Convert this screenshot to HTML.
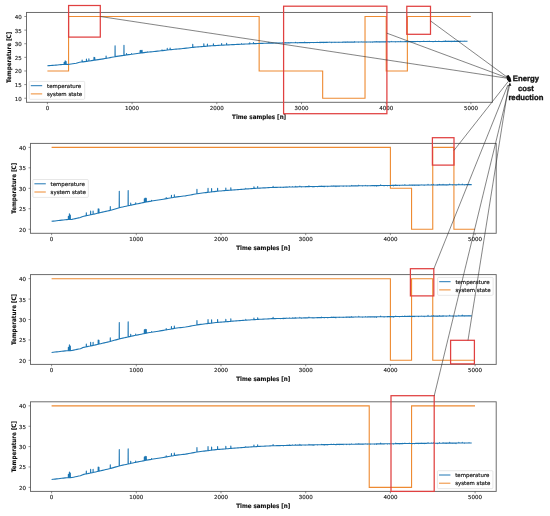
<!DOCTYPE html>
<html><head><meta charset="utf-8"><style>
html,body{margin:0;padding:0;background:#fff;width:550px;height:516px;overflow:hidden}
svg{display:block}
.t{font-family:'DejaVu Sans', 'Liberation Sans', sans-serif;font-size:5.5px;fill:#1a1a1a;stroke:#1a1a1a;stroke-width:0.14px}
.lg{font-family:'DejaVu Sans', 'Liberation Sans', sans-serif;font-size:5.45px;fill:#1a1a1a;stroke:#1a1a1a;stroke-width:0.18px}
text{text-rendering:geometricPrecision}
.lb{font-family:'DejaVu Sans', 'Liberation Sans', sans-serif;font-size:6.2px;font-weight:bold;font-stretch:condensed;fill:#111;stroke:#111;stroke-width:0.12px}
.ec{font-family:'Liberation Sans',Arial,sans-serif;font-size:7.7px;font-weight:bold;fill:#111;stroke:#111;stroke-width:0.32px}
</style></head><body>
<svg width="550" height="516" viewBox="0 0 550 516">
<defs><filter id="bl" filterUnits="userSpaceOnUse" x="0" y="0" width="550" height="516"><feGaussianBlur stdDeviation="0.3"/></filter></defs>
<rect width="550" height="516" fill="#fff"/>
<g filter="url(#bl)">
<polyline points="47.40,70.97 68.58,70.97 68.58,16.49 259.15,16.49 259.15,70.97 322.67,70.97 322.67,98.21 365.02,98.21 365.02,16.49 386.20,16.49 386.20,70.97 407.37,70.97 407.37,16.49 470.82,16.49" fill="none" stroke="#ee8a30" stroke-width="1.1" stroke-linejoin="miter"/>
<polyline points="47.40,65.71 49.09,65.59 50.79,65.46 52.48,65.34 54.18,65.21 55.87,65.08 57.56,64.94 59.26,64.81 60.95,64.67 62.65,64.56 64.09,64.52 64.17,62.34 64.26,64.52 64.34,64.52 65.10,64.50 65.19,60.68 65.27,64.49 66.03,64.47 66.03,64.47 66.12,61.47 66.20,64.47 67.73,64.42 69.42,64.18 71.12,63.93 72.81,63.69 74.50,63.45 76.20,63.20 77.89,62.67 79.59,62.31 81.28,62.08 82.04,61.98 82.13,60.06 82.21,61.95 82.97,61.85 84.67,61.62 86.36,61.40 86.36,61.40 86.45,58.93 86.53,61.37 88.06,61.17 88.82,61.06 88.90,58.87 88.99,61.04 89.75,60.93 91.44,60.66 93.14,60.40 93.90,60.28 93.98,57.40 94.07,60.25 94.66,60.16 94.75,57.55 94.83,60.13 94.83,60.13 96.53,59.87 98.22,59.61 99.91,59.35 101.61,59.10 103.30,58.84 105.00,58.58 106.01,58.42 106.10,55.96 106.18,58.39 106.69,58.29 108.38,57.96 110.08,57.64 111.77,57.31 113.47,56.98 114.99,56.69 115.08,45.77 115.16,56.65 115.16,56.65 116.85,56.39 118.55,56.14 120.24,55.90 121.94,55.65 123.63,55.40 123.88,55.36 123.97,45.27 124.05,55.34 125.32,55.15 126.43,54.99 126.51,53.62 126.59,54.97 127.02,54.91 128.71,54.66 130.41,54.42 131.42,54.28 131.51,53.45 131.59,54.26 132.10,54.19 133.79,53.97 135.49,53.74 137.18,53.52 138.88,53.29 140.06,53.14 140.15,50.67 140.23,53.11 140.57,53.07 140.91,53.02 140.99,50.29 141.08,53.00 142.01,52.88 142.09,50.41 142.18,52.85 142.26,52.84 143.96,52.62 145.65,52.42 147.26,52.25 147.35,51.69 147.43,52.23 149.04,52.06 150.73,51.88 152.43,51.70 154.12,51.52 155.82,51.34 157.51,51.16 159.20,50.98 160.90,50.78 161.91,50.67 162.00,49.84 162.08,50.65 162.59,50.59 164.29,50.40 165.98,50.20 167.17,50.07 167.25,48.42 167.34,50.05 167.67,50.01 169.37,49.82 170.05,49.74 170.13,48.09 170.22,49.72 171.06,49.62 172.76,49.43 174.45,49.27 176.14,49.14 177.84,49.02 179.53,48.90 181.23,48.78 182.92,48.57 184.61,48.36 186.31,48.16 188.00,47.95 189.70,47.74 191.39,47.54 192.66,47.38 192.75,44.38 192.83,47.36 193.08,47.33 194.78,47.15 196.47,47.01 198.17,46.87 199.86,46.74 201.55,46.60 203.25,46.46 203.76,46.42 203.84,43.69 203.93,46.41 204.94,46.33 206.64,46.19 207.31,46.13 207.40,43.95 207.48,46.12 208.33,46.05 210.02,45.92 211.72,45.78 213.33,45.67 213.41,43.76 213.50,45.66 215.11,45.58 216.80,45.48 218.49,45.39 220.19,45.30 221.54,45.23 221.63,43.59 221.71,45.22 221.88,45.21 223.58,45.12 225.27,45.03 226.54,44.96 226.63,43.32 226.71,44.95 226.96,44.93 228.66,44.84 230.35,44.75 232.05,44.67 233.74,44.59 235.43,44.51 237.13,44.42 238.82,44.34 240.52,44.26 241.53,44.21 241.62,43.66 241.70,44.21 242.21,44.18 243.90,44.10 245.60,44.02 247.29,43.94 248.99,43.86 249.66,43.83 249.75,42.74 249.83,43.83 250.68,43.80 252.37,43.73 253.39,43.69 253.48,42.60 253.56,43.69 254.07,43.67 255.76,43.61 257.46,43.54 259.15,43.48 260.84,43.42 262.54,43.35 264.23,43.29 265.93,43.23 267.62,43.17 268.81,43.16 268.89,42.34 268.98,43.15 269.31,43.15 271.01,43.12 272.70,43.09 274.40,43.07 276.01,43.04 276.09,43.16 276.17,43.04 277.78,43.01 278.97,43.00 279.05,43.24 279.14,42.99 279.48,42.99 281.17,42.96 282.27,42.94 282.36,42.80 282.44,42.94 282.87,42.93 284.56,42.91 285.07,42.90 285.15,42.58 285.24,42.90 286.25,42.88 287.95,42.85 288.29,42.85 288.37,42.53 288.46,42.85 289.64,42.83 291.00,42.81 291.08,42.43 291.17,42.80 291.34,42.80 293.03,42.77 294.72,42.75 295.57,42.73 295.66,42.20 295.74,42.73 296.42,42.72 297.18,42.71 297.26,42.88 297.35,42.70 298.11,42.69 299.81,42.67 300.82,42.65 300.91,42.79 300.99,42.65 301.50,42.64 303.19,42.62 304.63,42.60 304.72,42.13 304.80,42.60 304.89,42.60 306.58,42.58 307.94,42.56 308.02,42.77 308.11,42.56 308.28,42.56 309.63,42.54 309.72,42.89 309.80,42.54 309.97,42.54 311.66,42.52 313.19,42.50 313.27,42.62 313.36,42.50 313.36,42.50 315.05,42.48 316.75,42.46 317.08,42.45 317.17,42.17 317.25,42.45 318.44,42.43 319.88,42.42 319.96,42.73 320.05,42.42 320.13,42.41 321.83,42.39 323.52,42.37 323.52,42.37 323.61,42.65 323.69,42.37 325.22,42.35 326.83,42.33 326.91,42.08 326.99,42.33 328.60,42.31 329.54,42.30 329.62,42.08 329.71,42.30 330.30,42.29 331.65,42.28 331.74,42.61 331.82,42.27 331.99,42.27 333.69,42.25 334.87,42.24 334.96,42.43 335.04,42.23 335.38,42.23 337.07,42.22 338.77,42.20 338.85,42.20 338.94,42.43 339.02,42.20 340.46,42.19 342.16,42.18 342.33,42.18 342.41,42.38 342.49,42.17 343.85,42.16 345.54,42.15 345.54,42.15 345.63,42.40 345.71,42.15 347.24,42.14 347.24,42.14 347.32,41.82 347.41,42.14 348.93,42.12 350.63,42.11 351.30,42.10 351.39,41.96 351.47,42.10 352.32,42.10 354.01,42.08 354.52,42.08 354.61,41.65 354.69,42.08 355.71,42.07 357.40,42.06 358.25,42.05 358.33,42.20 358.42,42.05 359.10,42.04 360.79,42.03 361.30,42.02 361.38,41.81 361.47,42.02 362.48,42.02 362.99,42.01 363.08,42.14 363.16,42.01 364.18,42.00 365.87,41.99 366.30,41.99 366.38,42.10 366.46,41.98 367.57,41.97 369.26,41.96 370.11,41.95 370.19,42.15 370.28,41.95 370.95,41.95 372.31,41.93 372.39,42.29 372.48,41.93 372.65,41.93 374.34,41.92 376.04,41.90 376.37,41.90 376.46,41.44 376.54,41.90 377.73,41.89 379.42,41.87 379.76,41.87 379.85,42.16 379.93,41.87 381.12,41.86 382.81,41.85 383.24,41.84 383.32,42.04 383.40,41.84 384.51,41.83 385.61,41.82 385.69,41.97 385.78,41.82 386.20,41.82 387.89,41.80 389.08,41.79 389.16,42.16 389.25,41.79 389.59,41.79 391.28,41.77 391.45,41.77 391.54,41.41 391.62,41.77 392.98,41.76 394.67,41.75 395.26,41.74 395.35,41.91 395.43,41.74 396.36,41.73 397.97,41.72 398.06,41.51 398.14,41.72 399.75,41.70 400.60,41.70 400.68,41.30 400.77,41.70 401.45,41.69 403.14,41.68 404.83,41.66 404.92,41.66 405.00,41.41 405.09,41.66 406.53,41.65 408.22,41.63 408.22,41.63 408.31,41.80 408.39,41.63 409.92,41.62 410.25,41.62 410.34,41.79 410.42,41.61 411.61,41.60 413.30,41.59 414.15,41.59 414.24,41.79 414.32,41.59 415.00,41.58 416.69,41.57 417.45,41.57 417.54,41.41 417.62,41.57 418.39,41.56 419.83,41.56 419.91,41.81 420.00,41.55 420.08,41.55 421.77,41.54 423.47,41.53 423.72,41.53 423.81,40.99 423.89,41.53 425.16,41.52 426.86,41.51 427.03,41.51 427.11,41.24 427.19,41.51 428.55,41.50 429.06,41.50 429.14,41.02 429.23,41.50 430.24,41.49 431.94,41.49 432.95,41.48 433.04,41.73 433.12,41.48 433.63,41.48 435.16,41.47 435.24,41.03 435.33,41.47 435.33,41.47 437.02,41.46 438.71,41.45 438.71,41.45 438.80,41.04 438.88,41.44 440.41,41.44 441.85,41.43 441.93,41.66 442.02,41.43 442.10,41.43 443.80,41.42 445.41,41.41 445.49,40.87 445.57,41.41 447.18,41.40 448.12,41.39 448.20,41.53 448.29,41.39 448.88,41.39 450.57,41.38 451.76,41.37 451.84,41.74 451.93,41.37 452.27,41.37 453.96,41.36 454.55,41.35 454.64,40.92 454.72,41.35 455.65,41.35 457.35,41.34 457.94,41.33 458.03,40.84 458.11,41.33 459.04,41.33 460.23,41.32 460.31,41.52 460.40,41.32 460.74,41.32 462.43,41.31 464.12,41.30 464.72,41.29 464.80,41.03 464.89,41.29 465.82,41.29 467.51,41.28" fill="none" stroke="#1f77b4" stroke-width="1.1" stroke-linejoin="round"/>
<rect x="26.5" y="12.45" width="465.80" height="89.85" fill="none" stroke="#666" stroke-width="0.95"/>
<line x1="47.40" y1="102.30" x2="47.40" y2="104.20" stroke="#444" stroke-width="0.6"/>
<text x="47.40" y="110.35" text-anchor="middle" class="t">0</text>
<line x1="132.10" y1="102.30" x2="132.10" y2="104.20" stroke="#444" stroke-width="0.6"/>
<text x="132.10" y="110.35" text-anchor="middle" class="t">1000</text>
<line x1="216.80" y1="102.30" x2="216.80" y2="104.20" stroke="#444" stroke-width="0.6"/>
<text x="216.80" y="110.35" text-anchor="middle" class="t">2000</text>
<line x1="301.50" y1="102.30" x2="301.50" y2="104.20" stroke="#444" stroke-width="0.6"/>
<text x="301.50" y="110.35" text-anchor="middle" class="t">3000</text>
<line x1="386.20" y1="102.30" x2="386.20" y2="104.20" stroke="#444" stroke-width="0.6"/>
<text x="386.20" y="110.35" text-anchor="middle" class="t">4000</text>
<line x1="470.90" y1="102.30" x2="470.90" y2="104.20" stroke="#444" stroke-width="0.6"/>
<text x="470.90" y="110.35" text-anchor="middle" class="t">5000</text>
<line x1="24.32" y1="98.21" x2="26.22" y2="98.21" stroke="#444" stroke-width="0.6"/>
<text x="21.82" y="100.66" text-anchor="end" class="t">10</text>
<line x1="24.32" y1="84.59" x2="26.22" y2="84.59" stroke="#444" stroke-width="0.6"/>
<text x="21.82" y="87.04" text-anchor="end" class="t">15</text>
<line x1="24.32" y1="70.97" x2="26.22" y2="70.97" stroke="#444" stroke-width="0.6"/>
<text x="21.82" y="73.42" text-anchor="end" class="t">20</text>
<line x1="24.32" y1="57.35" x2="26.22" y2="57.35" stroke="#444" stroke-width="0.6"/>
<text x="21.82" y="59.80" text-anchor="end" class="t">25</text>
<line x1="24.32" y1="43.73" x2="26.22" y2="43.73" stroke="#444" stroke-width="0.6"/>
<text x="21.82" y="46.18" text-anchor="end" class="t">30</text>
<line x1="24.32" y1="30.11" x2="26.22" y2="30.11" stroke="#444" stroke-width="0.6"/>
<text x="21.82" y="32.56" text-anchor="end" class="t">35</text>
<line x1="24.32" y1="16.49" x2="26.22" y2="16.49" stroke="#444" stroke-width="0.6"/>
<text x="21.82" y="18.94" text-anchor="end" class="t">40</text>
<text x="259.15" y="118.70" text-anchor="middle" class="lb">Time samples [n]</text>
<text transform="translate(11.32,57.35) rotate(-90)" x="0" y="0" text-anchor="middle" class="lb">Temperature [C]</text>
<rect x="29.20" y="81.40" width="55.5" height="17.9" rx="1" fill="#fff" fill-opacity="0.8" stroke="#d6d6d6" stroke-width="0.6"/>
<line x1="30.80" y1="85.70" x2="42.20" y2="85.70" stroke="#1f77b4" stroke-width="1"/>
<line x1="30.80" y1="93.90" x2="42.20" y2="93.90" stroke="#ee8a30" stroke-width="1"/>
<text x="47.00" y="87.60" class="lg">temperature</text>
<text x="47.00" y="95.80" class="lg">system state</text>
<polyline points="51.60,147.39 390.40,147.39 390.40,188.30 411.57,188.30 411.57,229.21 432.75,229.21 432.75,147.39 453.93,147.39 453.93,229.21 475.02,229.21" fill="none" stroke="#ee8a30" stroke-width="1.1" stroke-linejoin="miter"/>
<polyline points="51.60,221.31 53.29,221.13 54.99,220.94 56.68,220.75 58.38,220.56 60.07,220.36 61.76,220.16 63.46,219.95 65.15,219.75 66.85,219.58 68.29,219.53 68.37,216.25 68.46,219.52 68.54,219.52 69.30,219.49 69.39,213.76 69.47,219.48 70.23,219.45 70.23,219.45 70.32,214.95 70.40,219.45 71.93,219.37 73.62,219.01 75.32,218.64 77.01,218.28 78.70,217.91 80.40,217.55 82.09,216.74 83.79,216.20 85.48,215.86 86.24,215.70 86.33,212.82 86.41,215.67 87.17,215.51 88.87,215.17 90.56,214.83 90.56,214.83 90.65,211.13 90.73,214.79 92.26,214.49 93.02,214.33 93.10,211.04 93.19,214.30 93.95,214.14 95.64,213.73 97.34,213.33 98.10,213.15 98.19,208.83 98.27,213.11 98.86,212.97 98.95,209.06 99.03,212.93 99.03,212.93 100.73,212.54 102.42,212.15 104.11,211.76 105.81,211.38 107.50,210.99 109.20,210.60 110.21,210.37 110.30,206.66 110.38,210.32 110.89,210.17 112.58,209.68 114.28,209.18 115.97,208.69 117.67,208.20 119.19,207.76 119.28,191.37 119.36,207.71 119.36,207.71 121.05,207.31 122.75,206.94 124.44,206.57 126.14,206.20 127.83,205.83 128.08,205.77 128.17,190.62 128.25,205.74 129.52,205.46 130.63,205.22 130.71,203.15 130.79,205.18 131.22,205.09 132.91,204.72 134.61,204.35 135.62,204.15 135.71,202.90 135.79,204.11 136.30,204.01 137.99,203.68 139.69,203.34 141.38,203.00 143.08,202.66 144.26,202.43 144.35,198.73 144.43,202.39 144.77,202.32 145.11,202.26 145.19,198.15 145.28,202.22 146.21,202.04 146.29,198.34 146.38,202.00 146.46,201.99 148.16,201.65 149.85,201.35 151.46,201.09 151.55,200.26 151.63,201.07 153.24,200.81 154.93,200.54 156.63,200.27 158.32,200.00 160.02,199.72 161.71,199.45 163.40,199.18 165.10,198.89 166.11,198.72 166.20,197.48 166.28,198.69 166.79,198.60 168.49,198.31 170.18,198.02 171.37,197.82 171.45,195.35 171.54,197.79 171.87,197.73 173.57,197.44 174.25,197.32 174.33,194.86 174.41,197.30 175.26,197.15 176.96,196.86 178.65,196.61 180.34,196.43 182.04,196.25 183.73,196.07 185.43,195.88 187.12,195.57 188.81,195.26 190.51,194.95 192.20,194.64 193.90,194.33 195.59,194.02 196.86,193.79 196.95,189.27 197.03,193.76 197.28,193.71 198.98,193.43 200.67,193.23 202.37,193.02 204.06,192.82 205.75,192.61 207.45,192.41 207.96,192.34 208.04,188.24 208.13,192.32 209.14,192.20 210.84,192.00 211.51,191.91 211.60,188.63 211.68,191.89 212.53,191.79 214.22,191.58 215.92,191.38 217.53,191.22 217.61,188.35 217.70,191.20 219.31,191.07 221.00,190.94 222.69,190.80 224.39,190.66 225.74,190.55 225.83,188.09 225.91,190.54 226.08,190.52 227.78,190.38 229.47,190.25 230.74,190.14 230.83,187.68 230.91,190.13 231.16,190.11 232.86,189.97 234.55,189.83 236.25,189.71 237.94,189.59 239.63,189.47 241.33,189.34 243.02,189.22 244.72,189.10 245.73,189.03 245.82,188.20 245.90,189.02 246.41,188.98 248.10,188.86 249.80,188.74 251.49,188.61 253.19,188.50 253.86,188.46 253.95,186.82 254.03,188.45 254.88,188.40 256.57,188.30 257.59,188.25 257.68,186.61 257.76,188.24 258.27,188.21 259.96,188.11 261.66,188.02 263.35,187.92 265.04,187.83 266.74,187.73 268.43,187.64 270.13,187.54 271.82,187.47 273.01,187.44 273.09,186.21 273.18,187.44 273.51,187.43 275.21,187.39 276.90,187.35 278.60,187.31 280.21,187.27 280.29,187.44 280.37,187.26 281.98,187.23 283.17,187.20 283.25,187.56 283.34,187.19 283.68,187.19 285.37,187.15 286.47,187.12 286.56,186.90 286.64,187.12 287.07,187.11 288.76,187.07 289.27,187.05 289.35,186.58 289.44,187.05 290.45,187.03 292.15,186.99 292.49,186.98 292.57,186.49 292.66,186.97 293.84,186.95 295.20,186.91 295.28,186.34 295.37,186.91 295.54,186.90 297.23,186.86 298.92,186.82 299.77,186.80 299.86,186.00 299.94,186.80 300.62,186.78 301.38,186.77 301.46,187.03 301.55,186.76 302.31,186.74 304.01,186.70 305.02,186.68 305.11,186.89 305.19,186.68 305.70,186.66 307.39,186.63 308.83,186.61 308.92,185.90 309.00,186.60 309.09,186.60 310.78,186.57 312.14,186.55 312.22,186.86 312.31,186.54 312.48,186.54 313.83,186.52 313.92,187.05 314.00,186.51 314.17,186.51 315.86,186.48 317.39,186.45 317.47,186.63 317.56,186.45 317.56,186.45 319.25,186.42 320.95,186.39 321.28,186.38 321.37,185.95 321.45,186.38 322.64,186.36 324.08,186.33 324.16,186.79 324.25,186.33 324.33,186.33 326.03,186.30 327.72,186.26 327.72,186.26 327.81,186.69 327.89,186.26 329.42,186.23 331.03,186.20 331.11,185.82 331.19,186.20 332.80,186.17 333.74,186.16 333.82,185.82 333.91,186.15 334.50,186.14 335.85,186.12 335.94,186.62 336.02,186.11 336.19,186.11 337.89,186.08 339.07,186.06 339.16,186.36 339.24,186.06 339.58,186.05 341.27,186.03 342.97,186.01 343.05,186.01 343.14,186.35 343.22,186.01 344.66,185.99 346.36,185.97 346.53,185.97 346.61,186.27 346.69,185.97 348.05,185.95 349.74,185.93 349.74,185.93 349.83,186.30 349.91,185.93 351.44,185.91 351.44,185.91 351.52,185.43 351.61,185.91 353.13,185.89 354.83,185.87 355.50,185.86 355.59,185.64 355.67,185.86 356.52,185.85 358.21,185.83 358.72,185.82 358.81,185.17 358.89,185.82 359.91,185.81 361.60,185.79 362.45,185.78 362.53,186.01 362.62,185.78 363.30,185.77 364.99,185.75 365.50,185.74 365.58,185.41 365.67,185.74 366.68,185.73 367.19,185.72 367.28,185.92 367.36,185.72 368.38,185.71 370.07,185.69 370.50,185.68 370.58,185.86 370.66,185.68 371.77,185.67 373.46,185.64 374.31,185.63 374.39,185.93 374.48,185.63 375.15,185.62 376.51,185.61 376.59,186.15 376.68,185.60 376.85,185.60 378.54,185.58 380.24,185.56 380.57,185.55 380.66,184.86 380.74,185.55 381.93,185.54 383.62,185.52 383.96,185.51 384.05,185.94 384.13,185.51 385.32,185.49 387.01,185.47 387.44,185.47 387.52,185.77 387.60,185.47 388.71,185.45 389.81,185.44 389.89,185.66 389.98,185.44 390.40,185.43 392.09,185.41 393.28,185.39 393.36,185.95 393.45,185.39 393.79,185.39 395.48,185.37 395.65,185.36 395.74,184.82 395.82,185.36 397.18,185.34 398.87,185.32 399.46,185.32 399.55,185.57 399.63,185.31 400.56,185.30 402.17,185.28 402.26,184.97 402.34,185.28 403.95,185.26 404.80,185.25 404.88,184.65 404.97,185.25 405.65,185.24 407.34,185.22 409.03,185.19 409.12,185.19 409.20,184.82 409.29,185.19 410.73,185.17 412.42,185.15 412.42,185.15 412.51,185.40 412.59,185.15 414.12,185.13 414.45,185.13 414.54,185.39 414.62,185.12 415.81,185.11 417.50,185.09 418.35,185.09 418.44,185.38 418.52,185.09 419.20,185.08 420.89,185.06 421.65,185.06 421.74,184.82 421.82,185.06 422.59,185.05 424.03,185.04 424.11,185.41 424.20,185.04 424.28,185.03 425.97,185.02 427.67,185.00 427.92,185.00 428.01,184.19 428.09,185.00 429.36,184.99 431.06,184.98 431.23,184.97 431.31,184.56 431.39,184.97 432.75,184.96 433.26,184.96 433.34,184.23 433.43,184.95 434.44,184.95 436.14,184.93 437.15,184.92 437.24,185.31 437.32,184.92 437.83,184.92 439.36,184.90 439.44,184.25 439.53,184.90 439.53,184.90 441.22,184.89 442.91,184.87 442.91,184.87 443.00,184.27 443.08,184.87 444.61,184.86 446.05,184.84 446.13,185.20 446.22,184.84 446.30,184.84 448.00,184.83 449.61,184.81 449.69,184.01 449.77,184.81 451.38,184.80 452.32,184.79 452.40,185.00 452.49,184.79 453.08,184.78 454.77,184.77 455.96,184.76 456.04,185.31 456.13,184.76 456.47,184.75 458.16,184.74 458.75,184.73 458.84,184.09 458.92,184.73 459.85,184.72 461.55,184.71 462.14,184.70 462.23,183.96 462.31,184.70 463.24,184.69 464.43,184.68 464.51,184.98 464.60,184.68 464.94,184.68 466.63,184.66 468.32,184.65 468.92,184.64 469.00,184.24 469.09,184.64 470.02,184.63 471.71,184.62" fill="none" stroke="#1f77b4" stroke-width="1.1" stroke-linejoin="round"/>
<rect x="30.45" y="143.4" width="465.75" height="89.90" fill="none" stroke="#666" stroke-width="0.95"/>
<line x1="51.60" y1="233.30" x2="51.60" y2="235.20" stroke="#444" stroke-width="0.6"/>
<text x="51.60" y="241.35" text-anchor="middle" class="t">0</text>
<line x1="136.30" y1="233.30" x2="136.30" y2="235.20" stroke="#444" stroke-width="0.6"/>
<text x="136.30" y="241.35" text-anchor="middle" class="t">1000</text>
<line x1="221.00" y1="233.30" x2="221.00" y2="235.20" stroke="#444" stroke-width="0.6"/>
<text x="221.00" y="241.35" text-anchor="middle" class="t">2000</text>
<line x1="305.70" y1="233.30" x2="305.70" y2="235.20" stroke="#444" stroke-width="0.6"/>
<text x="305.70" y="241.35" text-anchor="middle" class="t">3000</text>
<line x1="390.40" y1="233.30" x2="390.40" y2="235.20" stroke="#444" stroke-width="0.6"/>
<text x="390.40" y="241.35" text-anchor="middle" class="t">4000</text>
<line x1="475.10" y1="233.30" x2="475.10" y2="235.20" stroke="#444" stroke-width="0.6"/>
<text x="475.10" y="241.35" text-anchor="middle" class="t">5000</text>
<line x1="28.53" y1="229.21" x2="30.43" y2="229.21" stroke="#444" stroke-width="0.6"/>
<text x="26.02" y="231.66" text-anchor="end" class="t">20</text>
<line x1="28.53" y1="208.75" x2="30.43" y2="208.75" stroke="#444" stroke-width="0.6"/>
<text x="26.02" y="211.20" text-anchor="end" class="t">25</text>
<line x1="28.53" y1="188.30" x2="30.43" y2="188.30" stroke="#444" stroke-width="0.6"/>
<text x="26.02" y="190.75" text-anchor="end" class="t">30</text>
<line x1="28.53" y1="167.85" x2="30.43" y2="167.85" stroke="#444" stroke-width="0.6"/>
<text x="26.02" y="170.30" text-anchor="end" class="t">35</text>
<line x1="28.53" y1="147.39" x2="30.43" y2="147.39" stroke="#444" stroke-width="0.6"/>
<text x="26.02" y="149.84" text-anchor="end" class="t">40</text>
<text x="263.35" y="249.70" text-anchor="middle" class="lb">Time samples [n]</text>
<text transform="translate(15.53,188.30) rotate(-90)" x="0" y="0" text-anchor="middle" class="lb">Temperature [C]</text>
<rect x="32.80" y="179.50" width="55.5" height="17.9" rx="1" fill="#fff" fill-opacity="0.8" stroke="#d6d6d6" stroke-width="0.6"/>
<line x1="34.40" y1="183.80" x2="45.80" y2="183.80" stroke="#1f77b4" stroke-width="1"/>
<line x1="34.40" y1="192.00" x2="45.80" y2="192.00" stroke="#ee8a30" stroke-width="1"/>
<text x="50.60" y="185.70" class="lg">temperature</text>
<text x="50.60" y="193.90" class="lg">system state</text>
<polyline points="51.60,278.68 390.40,278.68 390.40,360.32 411.57,360.32 411.57,278.68 432.75,278.68 432.75,360.32 475.02,360.32" fill="none" stroke="#ee8a30" stroke-width="1.1" stroke-linejoin="miter"/>
<polyline points="51.60,352.44 53.29,352.25 54.99,352.06 56.68,351.88 58.38,351.69 60.07,351.49 61.76,351.29 63.46,351.08 65.15,350.88 66.85,350.71 68.29,350.66 68.37,347.39 68.46,350.65 68.54,350.65 69.30,350.62 69.39,344.90 69.47,350.61 70.23,350.58 70.23,350.58 70.32,346.09 70.40,350.58 71.93,350.50 73.62,350.14 75.32,349.77 77.01,349.41 78.70,349.05 80.40,348.68 82.09,347.88 83.79,347.34 85.48,347.00 86.24,346.84 86.33,343.97 86.41,346.81 87.17,346.65 88.87,346.31 90.56,345.97 90.56,345.97 90.65,342.28 90.73,345.94 92.26,345.63 93.02,345.47 93.10,342.19 93.19,345.44 93.95,345.28 95.64,344.88 97.34,344.47 98.10,344.29 98.19,339.99 98.27,344.25 98.86,344.11 98.95,340.21 99.03,344.07 99.03,344.07 100.73,343.68 102.42,343.30 104.11,342.91 105.81,342.53 107.50,342.14 109.20,341.75 110.21,341.52 110.30,337.82 110.38,341.47 110.89,341.32 112.58,340.83 114.28,340.34 115.97,339.85 117.67,339.36 119.19,338.91 119.28,322.56 119.36,338.86 119.36,338.86 121.05,338.47 122.75,338.10 124.44,337.73 126.14,337.36 127.83,336.99 128.08,336.93 128.17,321.81 128.25,336.90 129.52,336.62 130.63,336.38 130.71,334.32 130.79,336.34 131.22,336.25 132.91,335.88 134.61,335.51 135.62,335.31 135.71,334.07 135.79,335.28 136.30,335.18 137.99,334.84 139.69,334.50 141.38,334.17 143.08,333.83 144.26,333.59 144.35,329.90 144.43,333.56 144.77,333.49 145.11,333.43 145.19,329.33 145.28,333.39 146.21,333.21 146.29,329.52 146.38,333.17 146.46,333.16 148.16,332.82 149.85,332.52 151.46,332.26 151.55,331.44 151.63,332.24 153.24,331.98 154.93,331.71 156.63,331.44 158.32,331.17 160.02,330.90 161.71,330.63 163.40,330.36 165.10,330.07 166.11,329.89 166.20,328.66 166.28,329.87 166.79,329.78 168.49,329.49 170.18,329.20 171.37,329.00 171.45,326.53 171.54,328.97 171.87,328.91 173.57,328.62 174.25,328.50 174.33,326.04 174.41,328.48 175.26,328.33 176.96,328.04 178.65,327.80 180.34,327.62 182.04,327.43 183.73,327.25 185.43,327.06 187.12,326.75 188.81,326.44 190.51,326.14 192.20,325.83 193.90,325.52 195.59,325.21 196.86,324.98 196.95,320.47 197.03,324.95 197.28,324.90 198.98,324.62 200.67,324.42 202.37,324.21 204.06,324.01 205.75,323.80 207.45,323.60 207.96,323.54 208.04,319.44 208.13,323.52 209.14,323.39 210.84,323.19 211.51,323.11 211.60,319.83 211.68,323.08 212.53,322.98 214.22,322.78 215.92,322.57 217.53,322.41 217.61,319.55 217.70,322.40 219.31,322.27 221.00,322.13 222.69,321.99 224.39,321.85 225.74,321.75 225.83,319.29 225.91,321.73 226.08,321.72 227.78,321.58 229.47,321.44 230.74,321.34 230.83,318.88 230.91,321.33 231.16,321.31 232.86,321.17 234.55,321.03 236.25,320.91 237.94,320.79 239.63,320.66 241.33,320.54 243.02,320.42 244.72,320.30 245.73,320.23 245.82,319.40 245.90,320.21 246.41,320.18 248.10,320.06 249.80,319.93 251.49,319.81 253.19,319.69 253.86,319.66 253.95,318.02 254.03,319.65 254.88,319.60 256.57,319.50 257.59,319.45 257.68,317.81 257.76,319.44 258.27,319.41 259.96,319.31 261.66,319.22 263.35,319.13 265.04,319.03 266.74,318.94 268.43,318.84 270.13,318.75 271.82,318.67 273.01,318.64 273.09,317.41 273.18,318.64 273.51,318.63 275.21,318.59 276.90,318.55 278.60,318.51 280.21,318.47 280.29,318.64 280.37,318.47 281.98,318.43 283.17,318.40 283.25,318.76 283.34,318.40 283.68,318.39 285.37,318.35 286.47,318.32 286.56,318.11 286.64,318.32 287.07,318.31 288.76,318.27 289.27,318.26 289.35,317.78 289.44,318.25 290.45,318.23 292.15,318.19 292.49,318.18 292.57,317.70 292.66,318.18 293.84,318.15 295.20,318.12 295.28,317.55 295.37,318.11 295.54,318.11 297.23,318.07 298.92,318.03 299.77,318.01 299.86,317.21 299.94,318.00 300.62,317.99 301.38,317.97 301.46,318.23 301.55,317.97 302.31,317.95 304.01,317.91 305.02,317.88 305.11,318.09 305.19,317.88 305.70,317.87 307.39,317.84 308.83,317.81 308.92,317.10 309.00,317.81 309.09,317.81 310.78,317.78 312.14,317.75 312.22,318.06 312.31,317.75 312.48,317.74 313.83,317.72 313.92,318.25 314.00,317.72 314.17,317.71 315.86,317.68 317.39,317.66 317.47,317.84 317.56,317.65 317.56,317.65 319.25,317.62 320.95,317.59 321.28,317.59 321.37,317.16 321.45,317.58 322.64,317.56 324.08,317.54 324.16,318.00 324.25,317.53 324.33,317.53 326.03,317.50 327.72,317.47 327.72,317.47 327.81,317.89 327.89,317.47 329.42,317.44 331.03,317.41 331.11,317.03 331.19,317.41 332.80,317.38 333.74,317.36 333.82,317.03 333.91,317.36 334.50,317.35 335.85,317.32 335.94,317.82 336.02,317.32 336.19,317.32 337.89,317.29 339.07,317.26 339.16,317.56 339.24,317.26 339.58,317.25 341.27,317.23 342.97,317.21 343.05,317.21 343.14,317.55 343.22,317.21 344.66,317.19 346.36,317.17 346.53,317.17 346.61,317.47 346.69,317.17 348.05,317.15 349.74,317.13 349.74,317.13 349.83,317.51 349.91,317.13 351.44,317.11 351.44,317.11 351.52,316.64 351.61,317.11 353.13,317.09 354.83,317.07 355.50,317.07 355.59,316.85 355.67,317.06 356.52,317.05 358.21,317.03 358.72,317.03 358.81,316.38 358.89,317.03 359.91,317.01 361.60,316.99 362.45,316.98 362.53,317.21 362.62,316.98 363.30,316.97 364.99,316.95 365.50,316.95 365.58,316.62 365.67,316.95 366.68,316.93 367.19,316.93 367.28,317.12 367.36,316.92 368.38,316.91 370.07,316.89 370.50,316.89 370.58,317.07 370.66,316.89 371.77,316.87 373.46,316.85 374.31,316.84 374.39,317.14 374.48,316.84 375.15,316.83 376.51,316.81 376.59,317.35 376.68,316.81 376.85,316.81 378.54,316.79 380.24,316.76 380.57,316.76 380.66,316.07 380.74,316.76 381.93,316.74 383.62,316.72 383.96,316.72 384.05,317.14 384.13,316.72 385.32,316.70 387.01,316.68 387.44,316.67 387.52,316.97 387.60,316.67 388.71,316.66 389.81,316.64 389.89,316.87 389.98,316.64 390.40,316.64 392.09,316.62 393.28,316.60 393.36,317.15 393.45,316.60 393.79,316.59 395.48,316.57 395.65,316.57 395.74,316.03 395.82,316.57 397.18,316.55 398.87,316.53 399.46,316.52 399.55,316.78 399.63,316.52 400.56,316.51 402.17,316.49 402.26,316.17 402.34,316.49 403.95,316.47 404.80,316.46 404.88,315.86 404.97,316.45 405.65,316.44 407.34,316.42 409.03,316.40 409.12,316.40 409.20,316.03 409.29,316.40 410.73,316.38 412.42,316.36 412.42,316.36 412.51,316.61 412.59,316.36 414.12,316.34 414.45,316.33 414.54,316.59 414.62,316.33 415.81,316.32 417.50,316.30 418.35,316.29 418.44,316.59 418.52,316.29 419.20,316.29 420.89,316.27 421.65,316.26 421.74,316.02 421.82,316.26 422.59,316.26 424.03,316.24 424.11,316.62 424.20,316.24 424.28,316.24 425.97,316.23 427.67,316.21 427.92,316.21 428.01,315.40 428.09,316.21 429.36,316.20 431.06,316.18 431.23,316.18 431.31,315.77 431.39,316.18 432.75,316.17 433.26,316.16 433.34,315.44 433.43,316.16 434.44,316.15 436.14,316.14 437.15,316.13 437.24,316.51 437.32,316.13 437.83,316.12 439.36,316.11 439.44,315.46 439.53,316.11 439.53,316.11 441.22,316.09 442.91,316.08 442.91,316.08 443.00,315.48 443.08,316.08 444.61,316.06 446.05,316.05 446.13,316.41 446.22,316.05 446.30,316.05 448.00,316.03 449.61,316.02 449.69,315.22 449.77,316.02 451.38,316.00 452.32,316.00 452.40,316.21 452.49,315.99 453.08,315.99 454.77,315.97 455.96,315.96 456.04,316.52 456.13,315.96 456.47,315.96 458.16,315.95 458.75,315.94 458.84,315.30 458.92,315.94 459.85,315.93 461.55,315.92 462.14,315.91 462.23,315.17 462.31,315.91 463.24,315.90 464.43,315.89 464.51,316.19 464.60,315.89 464.94,315.89 466.63,315.87 468.32,315.86 468.92,315.85 469.00,315.45 469.09,315.85 470.02,315.84 471.71,315.83" fill="none" stroke="#1f77b4" stroke-width="1.1" stroke-linejoin="round"/>
<rect x="30.5" y="274.6" width="465.70" height="89.80" fill="none" stroke="#666" stroke-width="0.95"/>
<line x1="51.60" y1="364.40" x2="51.60" y2="366.30" stroke="#444" stroke-width="0.6"/>
<text x="51.60" y="372.45" text-anchor="middle" class="t">0</text>
<line x1="136.30" y1="364.40" x2="136.30" y2="366.30" stroke="#444" stroke-width="0.6"/>
<text x="136.30" y="372.45" text-anchor="middle" class="t">1000</text>
<line x1="221.00" y1="364.40" x2="221.00" y2="366.30" stroke="#444" stroke-width="0.6"/>
<text x="221.00" y="372.45" text-anchor="middle" class="t">2000</text>
<line x1="305.70" y1="364.40" x2="305.70" y2="366.30" stroke="#444" stroke-width="0.6"/>
<text x="305.70" y="372.45" text-anchor="middle" class="t">3000</text>
<line x1="390.40" y1="364.40" x2="390.40" y2="366.30" stroke="#444" stroke-width="0.6"/>
<text x="390.40" y="372.45" text-anchor="middle" class="t">4000</text>
<line x1="475.10" y1="364.40" x2="475.10" y2="366.30" stroke="#444" stroke-width="0.6"/>
<text x="475.10" y="372.45" text-anchor="middle" class="t">5000</text>
<line x1="28.53" y1="360.32" x2="30.43" y2="360.32" stroke="#444" stroke-width="0.6"/>
<text x="26.02" y="362.77" text-anchor="end" class="t">20</text>
<line x1="28.53" y1="339.91" x2="30.43" y2="339.91" stroke="#444" stroke-width="0.6"/>
<text x="26.02" y="342.36" text-anchor="end" class="t">25</text>
<line x1="28.53" y1="319.50" x2="30.43" y2="319.50" stroke="#444" stroke-width="0.6"/>
<text x="26.02" y="321.95" text-anchor="end" class="t">30</text>
<line x1="28.53" y1="299.09" x2="30.43" y2="299.09" stroke="#444" stroke-width="0.6"/>
<text x="26.02" y="301.54" text-anchor="end" class="t">35</text>
<line x1="28.53" y1="278.68" x2="30.43" y2="278.68" stroke="#444" stroke-width="0.6"/>
<text x="26.02" y="281.13" text-anchor="end" class="t">40</text>
<text x="263.35" y="380.80" text-anchor="middle" class="lb">Time samples [n]</text>
<text transform="translate(15.53,319.50) rotate(-90)" x="0" y="0" text-anchor="middle" class="lb">Temperature [C]</text>
<rect x="437.60" y="277.40" width="55.5" height="17.9" rx="1" fill="#fff" fill-opacity="0.8" stroke="#d6d6d6" stroke-width="0.6"/>
<line x1="439.20" y1="281.70" x2="450.60" y2="281.70" stroke="#1f77b4" stroke-width="1"/>
<line x1="439.20" y1="289.90" x2="450.60" y2="289.90" stroke="#ee8a30" stroke-width="1"/>
<text x="455.40" y="283.60" class="lg">temperature</text>
<text x="455.40" y="291.80" class="lg">system state</text>
<polyline points="51.60,405.87 369.23,405.87 369.23,487.33 411.57,487.33 411.57,405.87 475.02,405.87" fill="none" stroke="#ee8a30" stroke-width="1.1" stroke-linejoin="miter"/>
<polyline points="51.60,479.47 53.29,479.28 54.99,479.09 56.68,478.91 58.38,478.72 60.07,478.52 61.76,478.32 63.46,478.11 65.15,477.91 66.85,477.74 68.29,477.69 68.37,474.42 68.46,477.68 68.54,477.68 69.30,477.65 69.39,471.94 69.47,477.64 70.23,477.61 70.23,477.61 70.32,473.13 70.40,477.61 71.93,477.53 73.62,477.17 75.32,476.81 77.01,476.44 78.70,476.08 80.40,475.72 82.09,474.92 83.79,474.38 85.48,474.03 86.24,473.88 86.33,471.01 86.41,473.85 87.17,473.69 88.87,473.35 90.56,473.01 90.56,473.01 90.65,469.33 90.73,472.98 92.26,472.67 93.02,472.52 93.10,469.24 93.19,472.48 93.95,472.32 95.64,471.92 97.34,471.52 98.10,471.34 98.19,467.04 98.27,471.30 98.86,471.16 98.95,467.27 99.03,471.12 99.03,471.12 100.73,470.73 102.42,470.35 104.11,469.96 105.81,469.57 107.50,469.19 109.20,468.80 110.21,468.57 110.30,464.88 110.38,468.52 110.89,468.37 112.58,467.88 114.28,467.39 115.97,466.90 117.67,466.41 119.19,465.97 119.28,449.65 119.36,465.92 119.36,465.92 121.05,465.53 122.75,465.16 124.44,464.79 126.14,464.42 127.83,464.05 128.08,463.99 128.17,448.91 128.25,463.96 129.52,463.68 130.63,463.44 130.71,461.39 130.79,463.40 131.22,463.31 132.91,462.94 134.61,462.58 135.62,462.38 135.71,461.14 135.79,462.34 136.30,462.24 137.99,461.91 139.69,461.57 141.38,461.23 143.08,460.90 144.26,460.66 144.35,456.98 144.43,460.63 144.77,460.56 145.11,460.49 145.19,456.41 145.28,460.46 146.21,460.28 146.29,456.59 146.38,460.24 146.46,460.23 148.16,459.89 149.85,459.59 151.46,459.34 151.55,458.51 151.63,459.31 153.24,459.05 154.93,458.78 156.63,458.51 158.32,458.24 160.02,457.97 161.71,457.70 163.40,457.43 165.10,457.14 166.11,456.97 166.20,455.73 166.28,456.94 166.79,456.86 168.49,456.57 170.18,456.28 171.37,456.08 171.45,453.62 171.54,456.05 171.87,455.99 173.57,455.70 174.25,455.58 174.33,453.13 174.41,455.56 175.26,455.41 176.96,455.12 178.65,454.88 180.34,454.70 182.04,454.52 183.73,454.34 185.43,454.14 187.12,453.84 188.81,453.53 190.51,453.22 192.20,452.91 193.90,452.60 195.59,452.30 196.86,452.07 196.95,447.57 197.03,452.03 197.28,451.99 198.98,451.71 200.67,451.51 202.37,451.30 204.06,451.10 205.75,450.89 207.45,450.69 207.96,450.63 208.04,446.54 208.13,450.61 209.14,450.48 210.84,450.28 211.51,450.20 211.60,446.93 211.68,450.18 212.53,450.07 214.22,449.87 215.92,449.67 217.53,449.50 217.61,446.65 217.70,449.49 219.31,449.36 221.00,449.22 222.69,449.09 224.39,448.95 225.74,448.84 225.83,446.39 225.91,448.83 226.08,448.81 227.78,448.68 229.47,448.54 230.74,448.44 230.83,445.99 230.91,448.42 231.16,448.40 232.86,448.26 234.55,448.13 236.25,448.00 237.94,447.88 239.63,447.76 241.33,447.64 243.02,447.52 244.72,447.40 245.73,447.32 245.82,446.50 245.90,447.31 246.41,447.28 248.10,447.16 249.80,447.03 251.49,446.91 253.19,446.79 253.86,446.76 253.95,445.12 254.03,446.75 254.88,446.70 256.57,446.60 257.59,446.55 257.68,444.91 257.76,446.54 258.27,446.51 259.96,446.42 261.66,446.32 263.35,446.23 265.04,446.13 266.74,446.04 268.43,445.94 270.13,445.85 271.82,445.77 273.01,445.74 273.09,444.52 273.18,445.74 273.51,445.73 275.21,445.69 276.90,445.65 278.60,445.61 280.21,445.57 280.29,445.74 280.37,445.57 281.98,445.53 283.17,445.50 283.25,445.86 283.34,445.50 283.68,445.49 285.37,445.45 286.47,445.43 286.56,445.21 286.64,445.42 287.07,445.41 288.76,445.37 289.27,445.36 289.35,444.88 289.44,445.36 290.45,445.33 292.15,445.29 292.49,445.28 292.57,444.80 292.66,445.28 293.84,445.25 295.20,445.22 295.28,444.65 295.37,445.22 295.54,445.21 297.23,445.17 298.92,445.13 299.77,445.11 299.86,444.31 299.94,445.11 300.62,445.09 301.38,445.07 301.46,445.33 301.55,445.07 302.31,445.05 304.01,445.01 305.02,444.99 305.11,445.19 305.19,444.98 305.70,444.97 307.39,444.94 308.83,444.91 308.92,444.21 309.00,444.91 309.09,444.91 310.78,444.88 312.14,444.85 312.22,445.16 312.31,444.85 312.48,444.85 313.83,444.82 313.92,445.35 314.00,444.82 314.17,444.82 315.86,444.79 317.39,444.76 317.47,444.94 317.56,444.76 317.56,444.76 319.25,444.73 320.95,444.70 321.28,444.69 321.37,444.26 321.45,444.69 322.64,444.67 324.08,444.64 324.16,445.10 324.25,444.64 324.33,444.63 326.03,444.60 327.72,444.57 327.72,444.57 327.81,444.99 327.89,444.57 329.42,444.54 331.03,444.51 331.11,444.14 331.19,444.51 332.80,444.48 333.74,444.47 333.82,444.13 333.91,444.46 334.50,444.45 335.85,444.43 335.94,444.93 336.02,444.42 336.19,444.42 337.89,444.39 339.07,444.37 339.16,444.67 339.24,444.37 339.58,444.36 341.27,444.34 342.97,444.32 343.05,444.32 343.14,444.66 343.22,444.32 344.66,444.30 346.36,444.28 346.53,444.28 346.61,444.58 346.69,444.28 348.05,444.26 349.74,444.24 349.74,444.24 349.83,444.61 349.91,444.24 351.44,444.22 351.44,444.22 351.52,443.74 351.61,444.22 353.13,444.20 354.83,444.18 355.50,444.17 355.59,443.95 355.67,444.17 356.52,444.16 358.21,444.14 358.72,444.13 358.81,443.49 358.89,444.13 359.91,444.12 361.60,444.10 362.45,444.09 362.53,444.32 362.62,444.09 363.30,444.08 364.99,444.06 365.50,444.05 365.58,443.73 365.67,444.05 366.68,444.04 367.19,444.03 367.28,444.23 367.36,444.03 368.38,444.02 370.07,444.00 370.50,443.99 370.58,444.17 370.66,443.99 371.77,443.98 373.46,443.96 374.31,443.95 374.39,444.24 374.48,443.94 375.15,443.93 376.51,443.92 376.59,444.46 376.68,443.92 376.85,443.91 378.54,443.89 380.24,443.87 380.57,443.87 380.66,443.17 380.74,443.86 381.93,443.85 383.62,443.83 383.96,443.82 384.05,444.25 384.13,443.82 385.32,443.81 387.01,443.79 387.44,443.78 387.52,444.08 387.60,443.78 388.71,443.76 389.81,443.75 389.89,443.97 389.98,443.75 390.40,443.74 392.09,443.72 393.28,443.71 393.36,444.26 393.45,443.70 393.79,443.70 395.48,443.68 395.65,443.68 395.74,443.14 395.82,443.67 397.18,443.66 398.87,443.64 399.46,443.63 399.55,443.89 399.63,443.63 400.56,443.62 402.17,443.59 402.26,443.28 402.34,443.59 403.95,443.57 404.80,443.56 404.88,442.97 404.97,443.56 405.65,443.55 407.34,443.53 409.03,443.51 409.12,443.51 409.20,443.14 409.29,443.51 410.73,443.49 412.42,443.47 412.42,443.47 412.51,443.72 412.59,443.46 414.12,443.44 414.45,443.44 414.54,443.70 414.62,443.44 415.81,443.42 417.50,443.41 418.35,443.40 418.44,443.69 418.52,443.40 419.20,443.39 420.89,443.38 421.65,443.37 421.74,443.13 421.82,443.37 422.59,443.36 424.03,443.35 424.11,443.72 424.20,443.35 424.28,443.35 425.97,443.33 427.67,443.32 427.92,443.32 428.01,442.51 428.09,443.32 429.36,443.30 431.06,443.29 431.23,443.29 431.31,442.88 431.39,443.29 432.75,443.28 433.26,443.27 433.34,442.55 433.43,443.27 434.44,443.26 436.14,443.25 437.15,443.24 437.24,443.62 437.32,443.24 437.83,443.23 439.36,443.22 439.44,442.57 439.53,443.22 439.53,443.22 441.22,443.20 442.91,443.19 442.91,443.19 443.00,442.59 443.08,443.18 444.61,443.17 446.05,443.16 446.13,443.51 446.22,443.16 446.30,443.16 448.00,443.14 449.61,443.13 449.69,442.33 449.77,443.13 451.38,443.11 452.32,443.10 452.40,443.31 452.49,443.10 453.08,443.10 454.77,443.08 455.96,443.07 456.04,443.63 456.13,443.07 456.47,443.07 458.16,443.05 458.75,443.05 458.84,442.41 458.92,443.05 459.85,443.04 461.55,443.02 462.14,443.02 462.23,442.28 462.31,443.02 463.24,443.01 464.43,443.00 464.51,443.30 464.60,443.00 464.94,442.99 466.63,442.98 468.32,442.96 468.92,442.96 469.00,442.56 469.09,442.96 470.02,442.95 471.71,442.93" fill="none" stroke="#1f77b4" stroke-width="1.1" stroke-linejoin="round"/>
<rect x="30.5" y="401.8" width="465.70" height="89.60" fill="none" stroke="#666" stroke-width="0.95"/>
<line x1="51.60" y1="491.40" x2="51.60" y2="493.30" stroke="#444" stroke-width="0.6"/>
<text x="51.60" y="499.45" text-anchor="middle" class="t">0</text>
<line x1="136.30" y1="491.40" x2="136.30" y2="493.30" stroke="#444" stroke-width="0.6"/>
<text x="136.30" y="499.45" text-anchor="middle" class="t">1000</text>
<line x1="221.00" y1="491.40" x2="221.00" y2="493.30" stroke="#444" stroke-width="0.6"/>
<text x="221.00" y="499.45" text-anchor="middle" class="t">2000</text>
<line x1="305.70" y1="491.40" x2="305.70" y2="493.30" stroke="#444" stroke-width="0.6"/>
<text x="305.70" y="499.45" text-anchor="middle" class="t">3000</text>
<line x1="390.40" y1="491.40" x2="390.40" y2="493.30" stroke="#444" stroke-width="0.6"/>
<text x="390.40" y="499.45" text-anchor="middle" class="t">4000</text>
<line x1="475.10" y1="491.40" x2="475.10" y2="493.30" stroke="#444" stroke-width="0.6"/>
<text x="475.10" y="499.45" text-anchor="middle" class="t">5000</text>
<line x1="28.53" y1="487.33" x2="30.43" y2="487.33" stroke="#444" stroke-width="0.6"/>
<text x="26.02" y="489.78" text-anchor="end" class="t">20</text>
<line x1="28.53" y1="466.96" x2="30.43" y2="466.96" stroke="#444" stroke-width="0.6"/>
<text x="26.02" y="469.41" text-anchor="end" class="t">25</text>
<line x1="28.53" y1="446.60" x2="30.43" y2="446.60" stroke="#444" stroke-width="0.6"/>
<text x="26.02" y="449.05" text-anchor="end" class="t">30</text>
<line x1="28.53" y1="426.24" x2="30.43" y2="426.24" stroke="#444" stroke-width="0.6"/>
<text x="26.02" y="428.69" text-anchor="end" class="t">35</text>
<line x1="28.53" y1="405.87" x2="30.43" y2="405.87" stroke="#444" stroke-width="0.6"/>
<text x="26.02" y="408.32" text-anchor="end" class="t">40</text>
<text x="263.35" y="507.80" text-anchor="middle" class="lb">Time samples [n]</text>
<text transform="translate(15.53,446.60) rotate(-90)" x="0" y="0" text-anchor="middle" class="lb">Temperature [C]</text>
<rect x="437.40" y="470.70" width="55.5" height="17.9" rx="1" fill="#fff" fill-opacity="0.8" stroke="#d6d6d6" stroke-width="0.6"/>
<line x1="439.00" y1="475.00" x2="450.40" y2="475.00" stroke="#1f77b4" stroke-width="1"/>
<line x1="439.00" y1="483.20" x2="450.40" y2="483.20" stroke="#ee8a30" stroke-width="1"/>
<text x="455.20" y="476.90" class="lg">temperature</text>
<text x="455.20" y="485.10" class="lg">system state</text>
<rect x="68.6" y="5.5" width="31.70" height="31.60" fill="none" stroke="#e0403f" stroke-width="1.25"/>
<rect x="283.6" y="6.2" width="103.30" height="107.50" fill="none" stroke="#e0403f" stroke-width="1.25"/>
<rect x="406.8" y="6.3" width="23.70" height="28.00" fill="none" stroke="#e0403f" stroke-width="1.25"/>
<rect x="432.4" y="137.7" width="21.60" height="27.40" fill="none" stroke="#e0403f" stroke-width="1.25"/>
<rect x="410.4" y="268.7" width="23.40" height="27.20" fill="none" stroke="#e0403f" stroke-width="1.25"/>
<rect x="450.6" y="340.3" width="23.80" height="23.60" fill="none" stroke="#e0403f" stroke-width="1.25"/>
<rect x="391.0" y="395.7" width="43.20" height="95.70" fill="none" stroke="#e0403f" stroke-width="1.25"/>
<line x1="100.3" y1="16.5" x2="509.0" y2="78.5" stroke="#333" stroke-width="0.6"/>
<line x1="386.9" y1="33.2" x2="509.0" y2="78.5" stroke="#333" stroke-width="0.6"/>
<line x1="430.5" y1="20.9" x2="509.0" y2="78.5" stroke="#333" stroke-width="0.6"/>
<line x1="454.0" y1="150.4" x2="508.3" y2="81.4" stroke="#333" stroke-width="0.6"/>
<line x1="433.8" y1="268.9" x2="507.9" y2="85.0" stroke="#333" stroke-width="0.6"/>
<line x1="468.0" y1="340.3" x2="508.6" y2="85.0" stroke="#333" stroke-width="0.6"/>
<line x1="434.2" y1="395.9" x2="509.7" y2="85.0" stroke="#333" stroke-width="0.6"/>
<polygon points="506.4,75.8 508.6,75.0 510.6,78.0 511.4,81.4 509.2,82.3 507.0,79.6" fill="#111"/>
<polygon points="509.9,82.6 511.3,85.7 508.4,85.7" fill="#111"/>
<text x="525.9" y="81.3" text-anchor="middle" class="ec">Energy</text>
<text x="525.9" y="90.9" text-anchor="middle" class="ec">cost</text>
<text x="525.9" y="100.3" text-anchor="middle" class="ec">reduction</text>
</g>
</svg>
</body></html>
